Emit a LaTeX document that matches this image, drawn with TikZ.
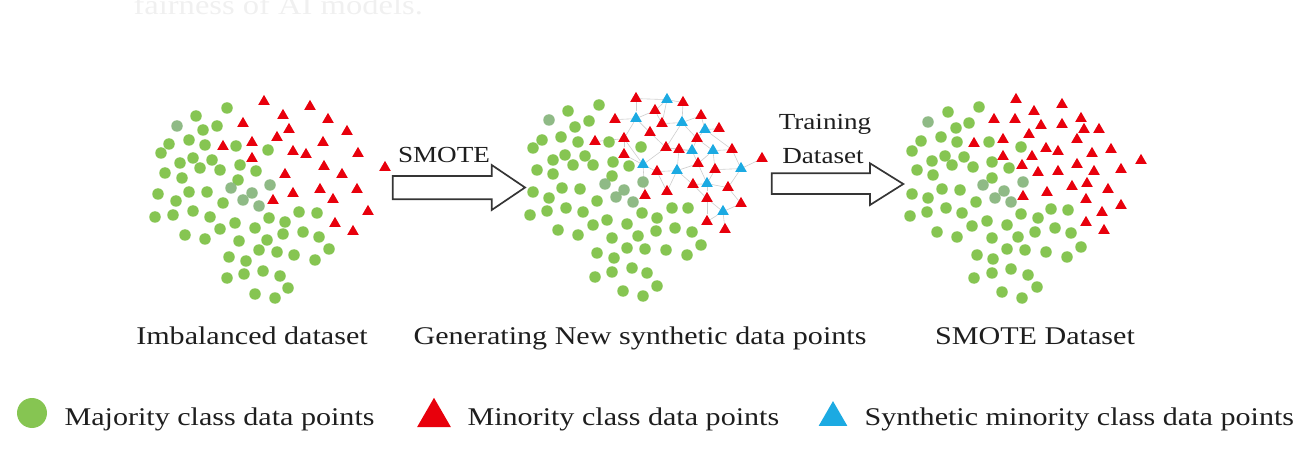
\documentclass[tikz,border=0pt]{standalone}
\usepackage{fontspec}
\setmainfont{Liberation Serif}[FakeStretch=1.18]
\usepackage{xcolor}
\usepackage{tikz}
\usetikzlibrary{shapes.geometric,backgrounds}

\definecolor{majgreen}{RGB}{134,197,82}
\definecolor{fadegreen}{RGB}{143,186,134}
\definecolor{minred}{RGB}{232,0,12}
\definecolor{synblue}{RGB}{28,170,226}
\definecolor{linkgray}{RGB}{205,205,205}
\definecolor{textgray}{RGB}{30,30,30}

\begin{document}
\begin{tikzpicture}[x=1pt,y=-1pt,
  majpt/.style={circle,fill=majgreen,inner sep=0pt,minimum size=11.5pt},
  fadept/.style={majpt,fill=fadegreen},
  minpt/.style={regular polygon,regular polygon sides=3,fill=minred,inner sep=0pt,minimum size=13.5pt,yshift=-1.6pt},
  synpt/.style={minpt,fill=synblue},
  link/.style={draw=linkgray,line width=0.6pt},
  capt/.style={anchor=base,text=textgray,font=\fontsize{25.5}{28}\selectfont},
  arrowtext/.style={anchor=base,text=textgray,font=\fontsize{23}{26}\selectfont},
  legtext/.style={anchor=base west,text=textgray,font=\fontsize{25.5}{28}\selectfont},
  bigarrow/.style={draw=textgray!90,line width=1.7pt,line join=miter}]
  \useasboundingbox (0,0) rectangle (1315,457); %整幅图的范围，按像素计

  \node[anchor=base west,text=black!6,font=\fontsize{27.6}{30}\selectfont] (topline) at (130,15) {fairness of AI models.};

  % 第一组：不平衡数据集
  \foreach \x/\y [count=\i] in {227/108,196/116,203/130,217/126,169/144,189/140,205/145,161/153,180/163,193/158,212/160,236/146,268/150,165/173,182/178,200/168,220/170,240/165,256/171,158/194,176/201,189/192,207/192,238/180,223/203,155/217,173/215,193/211,210/217,185/235,205/239,220/229,235/223,255/228,269/218,285/222,299/212,317/213,239/241,267/240,283/234,303/232,319/237,229/257,246/261,259/250,277/252,294/255,315/260,329/249,227/278,244/274,263/271,280/276,288/288,255/294,275/298}
    \node[majpt] (ga\i) at (\x,\y) {};
  \foreach \x/\y [count=\i] in {177/126,231/188,252/193,243/200,270/185,259/206}
    \node[fadept] (fa\i) at (\x,\y) {};
  \foreach \x/\y [count=\i] in {264/100,310/105,283/114,328/118,243/122,289/128,277/136,347/130,223/145,252/141,323/141,293/150,306/153,358/152,252/157,324/165,342/173,385/166,285/173,320/188,357/188,293/192,273/199,333/198,368/210,335/222,353/230}
    \node[minpt] (ra\i) at (\x,\y) {};

  % 第二组：生成合成样本
  \foreach \x/\y [count=\i] in {599/105,568/111,575/127,589/121,533/148,542/140,561/137,578/142,609/142,641/147,537/170,553/160,565/155,585/156,573/165,593/165,613/162,629/166,553/174,533/192,549/198,562/188,580/189,612/176,597/201,530/215,547/211,566/208,583/212,558/230,578/235,593/225,607/220,627/224,642/213,657/218,672/208,688/208,612/238,638/236,656/231,675/228,692/232,597/253,614/258,627/248,645/249,666/250,687/255,701/245,595/277,612/272,632/268,647/273,657/286,623/291,643/296}
    \node[majpt] (gb\i) at (\x,\y) {};
  \foreach \x/\y [count=\i] in {549/120,605/184,624/190,616/197,643/182,633/202}
    \node[fadept] (fb\i) at (\x,\y) {};
  \foreach \x/\y [count=\i] in {636/97,683/101,655/109,701/114,615/118,662/122,650/131,719/127,595/140,624/137,697/137,666/146,679/148,732/148,624/153,762/157,698/162,715/168,657/170,693/183,728/186,667/190,645/194,707/197,741/202,707/220,725/228}
    \node[minpt] (rb\i) at (\x,\y) {};
  \foreach \x/\y [count=\i] in {667/98,636/117,682/121,705/128,692/149,713/149,643/163,677/169,741/167,707/182,723/210}
    \node[synpt] (sb\i) at (\x,\y) {};
  \begin{scope}[on background layer] %连线放在底层
    \foreach \a/\b in {sb1/rb1,sb1/rb2,sb1/rb3,sb1/rb6,sb2/rb1,sb2/rb5,sb2/rb3,sb2/rb7,sb2/rb10,
      sb3/rb2,sb3/rb6,sb3/rb4,sb3/rb11,sb3/rb12,sb4/rb4,sb4/rb8,sb4/rb11,sb4/rb14,
      sb5/rb11,sb5/rb12,sb5/rb13,sb5/rb17,sb6/rb11,sb6/rb14,sb6/rb17,sb6/rb18,
      sb7/rb10,sb7/rb15,sb7/rb19,sb7/rb23,sb7/rb12,sb8/rb13,sb8/rb19,sb8/rb22,sb8/rb17,sb8/rb20,
      sb9/rb14,sb9/rb16,sb9/rb18,sb9/rb21,sb10/rb17,sb10/rb18,sb10/rb20,sb10/rb21,sb10/rb24,
      sb11/rb24,sb11/rb25,sb11/rb26,sb11/rb27,rb3/rb6,rb7/rb12,rb15/rb10,rb19/rb22,rb20/rb24,
      rb21/rb25,rb26/rb24,rb9/rb10,rb12/rb13}
      \draw[link] (\a) -- (\b);
  \end{scope}

  % 第三组：SMOTE 之后
  \foreach \x/\y [count=\i] in {979/107,948/112,956/128,969/123,921/141,941/137,957/142,912/151,932/161,945/156,964/157,989/142,1021/147,917/170,933/175,952/165,973/167,992/162,1009/168,912/194,928/198,942/189,960/190,992/178,976/202,910/216,927/212,946/208,962/213,937/232,957/237,972/226,987/221,1007/225,1021/214,1038/218,1051/209,1068/210,992/238,1018/237,1035/232,1055/228,1071/233,977/255,993/259,1007/249,1025/250,1046/252,1067/257,1081/247,974/278,992/273,1011/269,1028/275,1037/287,1002/292,1022/298}
    \node[majpt] (gc\i) at (\x,\y) {};
  \foreach \x/\y [count=\i] in {928/122,983/185,1004/191,995/198,1023/182,1011/202}
    \node[fadept] (fc\i) at (\x,\y) {};
  \foreach \x/\y [count=\i] in {1016/98,1062/103,1034/110,1081/117,994/118,1015/118,1041/124,1062/123,1084/128,1099/128,1029/133,1077/138,974/142,1003/138,1046/147,1058/150,1032/155,1003/155,1092/152,1111/148,1022/164,1038/171,1058/170,1077/163,1094/170,1121/168,1141/159,1072/185,1087/182,1108/188,1047/191,1023/195,1086/198,1121/204,1102/211,1086/221,1104/229}
    \node[minpt] (rc\i) at (\x,\y) {};

  % 空心箭头
  \draw[bigarrow] (392.7,176) -- ++(99,0) -- ++(0,-11) -- (525,187.5) -- (491.7,210) -- ++(0,-10.7) -- (392.7,199.3) -- cycle;
  \draw[bigarrow] (771.7,173.3) -- ++(98.3,0) -- ++(0,-10) -- (903.3,184) -- (870,205) -- ++(0,-11) -- (771.7,194) -- cycle;
  \node[arrowtext] (smote) at (444,162.7) {SMOTE};
  \node[arrowtext] (train) at (825,129.3) {Training};
  \node[arrowtext] (trainset) at (823,164) {Dataset};

  % 标题
  \node[capt] (imb) at (252,344) {Imbalanced dataset};
  \node[capt] (gen) at (640,344) {Generating New synthetic data points};
  \node[capt] (res) at (1035,344) {SMOTE Dataset};

  % 图例
  \node[circle,fill=majgreen,inner sep=0pt,minimum size=30pt] (legmaj) at (32,413) {};
  \node[legtext] (legmajt) at (61,425) {Majority class data points};
  \node[regular polygon,regular polygon sides=3,fill=minred,inner sep=0pt,minimum size=39pt,yshift=-4.8pt] (legmin) at (434,412.5) {};
  \node[legtext] (legmint) at (464,425) {Minority class data points};
  \node[regular polygon,regular polygon sides=3,fill=synblue,inner sep=0pt,minimum size=33pt,yshift=-4.1pt] (legsyn) at (833,413.5) {};
  \node[legtext] (legsynt) at (861,425) {Synthetic minority class data points};
\end{tikzpicture}
\end{document}
